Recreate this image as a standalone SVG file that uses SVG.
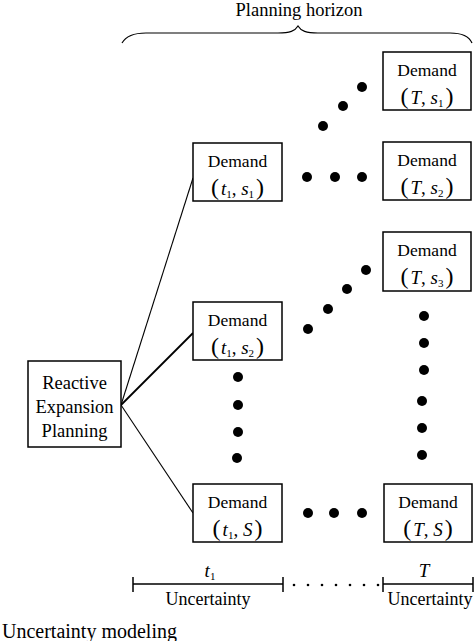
<svg xmlns="http://www.w3.org/2000/svg" width="474" height="641" viewBox="0 0 474 641" font-family="Liberation Serif, serif">
<style>
text{fill:#000}
.box{fill:#fff;stroke:#000;stroke-width:1.5}
.lbl{font-size:17.5px;text-anchor:middle}
.rl{font-size:18.5px;text-anchor:middle}
.math{font-size:19px;text-anchor:middle}
.it{font-style:italic}
.par{font-size:24px}
.sub{font-size:11px}
.dot{fill:#000}
.ln{stroke:#000;fill:none}
</style>
<defs>
<circle id="d" r="5" class="dot"/>
</defs>
<text x="299" y="15.5" font-size="18.5" text-anchor="middle">Planning horizon</text>
<path class="ln" stroke-width="1.2" d="M122,43 C126,36 134,33 146,33 L278,33 C290,33 295,31 298,26 C301,31 306,33 318,33 L450,33 C462,33 469,36 472,43"/>
<g id="connectors">
<line class="ln" stroke-width="1.1" x1="121" y1="405" x2="193" y2="178"/>
<line class="ln" stroke-width="1.8" x1="121" y1="405" x2="193" y2="333"/>
<line class="ln" stroke-width="1.1" x1="121" y1="405" x2="193" y2="513"/>
<g id="dots">
<use href="#d" x="323" y="126"/><use href="#d" x="343" y="106"/><use href="#d" x="362" y="87"/>
<use href="#d" x="307" y="177"/><use href="#d" x="335" y="177"/><use href="#d" x="362" y="177"/>
<use href="#d" x="308" y="329"/><use href="#d" x="328" y="309"/><use href="#d" x="347" y="289"/><use href="#d" x="366" y="270"/>
<use href="#d" x="238" y="377"/><use href="#d" x="238" y="405"/><use href="#d" x="238" y="432"/><use href="#d" x="237" y="458"/>
<use href="#d" x="424" y="316"/><use href="#d" x="424" y="343"/><use href="#d" x="424" y="370"/><use href="#d" x="422" y="401"/><use href="#d" x="422" y="428"/><use href="#d" x="422" y="455"/>
<use href="#d" x="308" y="513"/><use href="#d" x="334" y="513"/><use href="#d" x="362" y="513"/>
</g>
</g>
<g id="reactive">
<rect class="box" x="28" y="361" width="93" height="86"/>
<text class="rl" x="74.5" y="389">Reactive</text>
<text class="rl" x="74.5" y="413">Expansion</text>
<text class="rl" x="74.5" y="437">Planning</text>
</g>
<g id="t1s1">
<rect class="box" x="193" y="143" width="89" height="58"/>
<text class="lbl" x="237.5" y="167">Demand</text>
<text class="math" x="237.5" y="195"><tspan class="par">(</tspan><tspan class="it" dx="2">t</tspan><tspan class="sub" dy="3">1</tspan><tspan dy="-3">, </tspan><tspan class="it">s</tspan><tspan class="sub" dy="3">1</tspan><tspan class="par" dy="-3" dx="2">)</tspan></text>
</g>
<g id="t1s2">
<rect class="box" x="193" y="302" width="89" height="58"/>
<text class="lbl" x="237.5" y="326">Demand</text>
<text class="math" x="237.5" y="354"><tspan class="par">(</tspan><tspan class="it" dx="2">t</tspan><tspan class="sub" dy="3">1</tspan><tspan dy="-3">, </tspan><tspan class="it">s</tspan><tspan class="sub" dy="3">2</tspan><tspan class="par" dy="-3" dx="2">)</tspan></text>
</g>
<g id="t1S">
<rect class="box" x="193" y="484" width="89" height="58"/>
<text class="lbl" x="237.5" y="508">Demand</text>
<text class="math" x="237.5" y="536"><tspan class="par">(</tspan><tspan class="it" dx="2">t</tspan><tspan class="sub" dy="3">1</tspan><tspan dy="-3">, </tspan><tspan class="it">S</tspan><tspan class="par" dx="2">)</tspan></text>
</g>
<g id="Ts1">
<rect class="box" x="383" y="52" width="88" height="58"/>
<text class="lbl" x="427" y="76">Demand</text>
<text class="math" x="427" y="104"><tspan class="par">(</tspan><tspan class="it" dx="2">T</tspan><tspan>, </tspan><tspan class="it">s</tspan><tspan class="sub" dy="3">1</tspan><tspan class="par" dy="-3" dx="2">)</tspan></text>
</g>
<g id="Ts2">
<rect class="box" x="383" y="142" width="88" height="58"/>
<text class="lbl" x="427" y="166">Demand</text>
<text class="math" x="427" y="194"><tspan class="par">(</tspan><tspan class="it" dx="2">T</tspan><tspan>, </tspan><tspan class="it">s</tspan><tspan class="sub" dy="3">2</tspan><tspan class="par" dy="-3" dx="2">)</tspan></text>
</g>
<g id="Ts3">
<rect class="box" x="383" y="232" width="88" height="59"/>
<text class="lbl" x="427" y="256">Demand</text>
<text class="math" x="427" y="284"><tspan class="par">(</tspan><tspan class="it" dx="2">T</tspan><tspan>, </tspan><tspan class="it">s</tspan><tspan class="sub" dy="3">3</tspan><tspan class="par" dy="-3" dx="2">)</tspan></text>
</g>
<g id="TS">
<rect class="box" x="384" y="484" width="88" height="58"/>
<text class="lbl" x="428" y="508">Demand</text>
<text class="math" x="428" y="536"><tspan class="par">(</tspan><tspan class="it" dx="2">T</tspan><tspan>, </tspan><tspan class="it">S</tspan><tspan class="par" dx="2">)</tspan></text>
</g>
<g id="timeline">
<path class="ln" stroke-width="1.5" d="M133,584 H283 M133,577 V592 M283,577 V592 M383,584 H473 M383,577 V592 M473,577 V592"/>
<g class="dot"><circle cx="294" cy="585" r="1.3"/><circle cx="308" cy="585" r="1.3"/><circle cx="322" cy="585" r="1.3"/><circle cx="336" cy="585" r="1.3"/><circle cx="350" cy="585" r="1.3"/><circle cx="364" cy="585" r="1.3"/><circle cx="378" cy="585" r="1.3"/></g>
<text x="210" y="577" font-size="19" text-anchor="middle"><tspan class="it">t</tspan><tspan class="sub" dy="3">1</tspan></text>
<text x="424" y="577" font-size="19" text-anchor="middle" class="it">T</text>
<text x="208" y="605" font-size="18" text-anchor="middle">Uncertainty</text>
<text x="430" y="605" font-size="18" text-anchor="middle">Uncertainty</text>
</g>
<text x="2" y="638" font-size="20">Uncertainty modeling</text>
</svg>
